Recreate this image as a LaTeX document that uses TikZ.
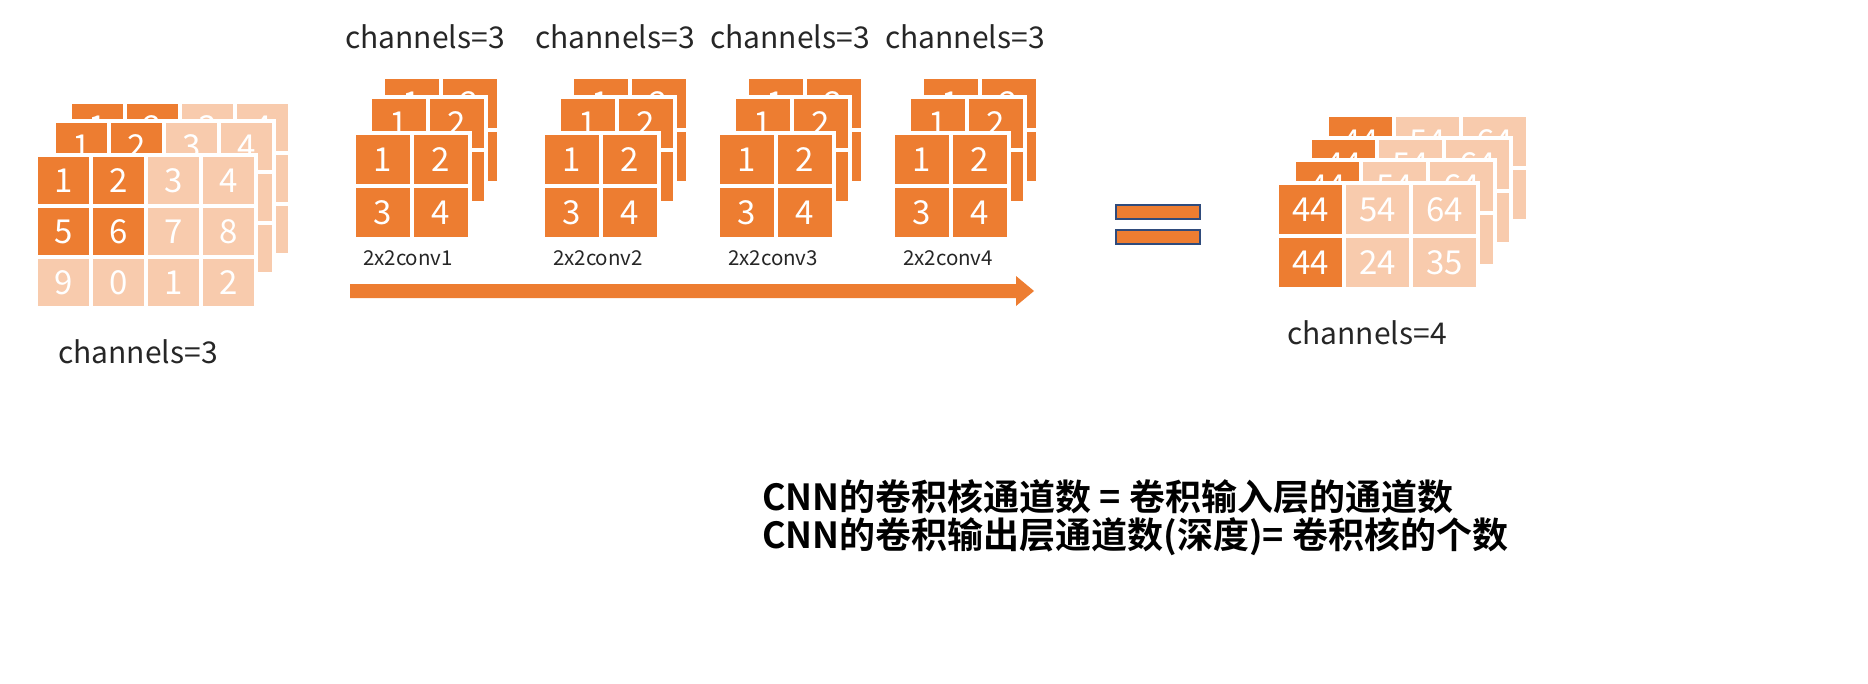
\documentclass[tikz,border=0pt]{standalone}
\usepackage{fontspec}
\setmainfont{Noto Sans CJK SC}
\newfontfamily\cjkbold{Noto Sans CJK SC Bold}
\definecolor{dk}{HTML}{ED7D31}
\definecolor{lt}{HTML}{F8CBAD}
\definecolor{eqb}{HTML}{2F4B7C}
\newcommand\glayer[7]{%
 \foreach \cc/\rr/\col/\tt in {#7} {\node[cellb, fill=\col, draw=white, line width=#6pt, minimum width=#4pt+#6pt, minimum height=#5pt+#6pt] (#1-\cc-\rr) at ({#2+(\cc-0.5)*(#4+#6)}, {#3+(\rr-0.5)*(#5+#6)}) {\tt};}}
\newcommand\inlayer[3]{\glayer{#1}{#2}{#3}{51}{47}{4}{1/1/dk/1,2/1/dk/2,3/1/lt/3,4/1/lt/4,1/2/dk/5,2/2/dk/6,3/2/lt/7,4/2/lt/8,1/3/lt/9,2/3/lt/0,3/3/lt/1,4/3/lt/2}}
\newcommand\klayer[3]{\glayer{#1}{#2}{#3}{54}{49}{4}{1/1/dk/1,2/1/dk/2,1/2/dk/3,2/2/dk/4}}
\newcommand\olayer[3]{\glayer{#1}{#2}{#3}{63}{49}{4}{1/1/dk/44,2/1/lt/54,3/1/lt/64,1/2/dk/44,2/2/lt/24,3/2/lt/35}}
\newcommand\kstack[2]{\klayer{#1c}{#2+29}{77}\klayer{#1b}{#2+16}{97}\klayer{#1a}{#2}{133}}
\begin{document}
\begin{tikzpicture}[x=1pt,y=-1pt,
 cellb/.style={inner sep=0pt, text=white, font=\fontsize{33}{33}\selectfont},
 lbl/.style={inner sep=0pt, font=\fontsize{30}{30}\selectfont, text=black!85},
 slbl/.style={inner sep=0pt, font=\fontsize{20.5}{20.5}\selectfont, text=black!85},
 eqbar/.style={draw=eqb, line width=2pt, fill=dk}]
\useasboundingbox (0,0) rectangle (1868,683);
% input
\inlayer{ic}{70}{102}\inlayer{ib}{54}{121}\inlayer{ia}{36}{155}
\node[lbl] (inl) at (138,352) {channels=3};
% kernels
\kstack{k1}{354}\kstack{k2}{543}\kstack{k3}{718}\kstack{k4}{893}
\foreach \i/\x in {1/425,2/615,3/790,4/965}{\node[lbl] (ch\i) at (\x,37) {channels=3};}
\foreach \i/\x in {1/408,2/598,3/773,4/948}{\node[slbl] (cv\i) at (\x,258) {2x2conv\i};}
% arrow
\fill[dk] (350,284) -- (1016,284) -- (1016,276) -- (1034,291) -- (1016,306) -- (1016,298) -- (350,298) -- cycle;
% equals
\node[eqbar, minimum width=84pt, minimum height=14pt, inner sep=0pt] (eq1) at (1158,212) {};
\node[eqbar, minimum width=84pt, minimum height=14pt, inner sep=0pt] (eq2) at (1158,237) {};
% output
\olayer{od}{1327}{115}\olayer{oc}{1310}{138}\olayer{ob}{1294}{160}\olayer{oa}{1277}{183}
\node[lbl] (outl) at (1367,333) {channels=4};
% bottom text
\node[anchor=west, inner sep=0pt, font=\cjkbold\fontsize{36}{36}\selectfont] (t1) at (762,497) {CNN的卷积核通道数 = 卷积输入层的通道数};
\node[anchor=west, inner sep=0pt, font=\cjkbold\fontsize{36}{36}\selectfont] (t2) at (762,537) {CNN的卷积输出层通道数(深度)= 卷积核的个数};
\end{tikzpicture}
\end{document}
